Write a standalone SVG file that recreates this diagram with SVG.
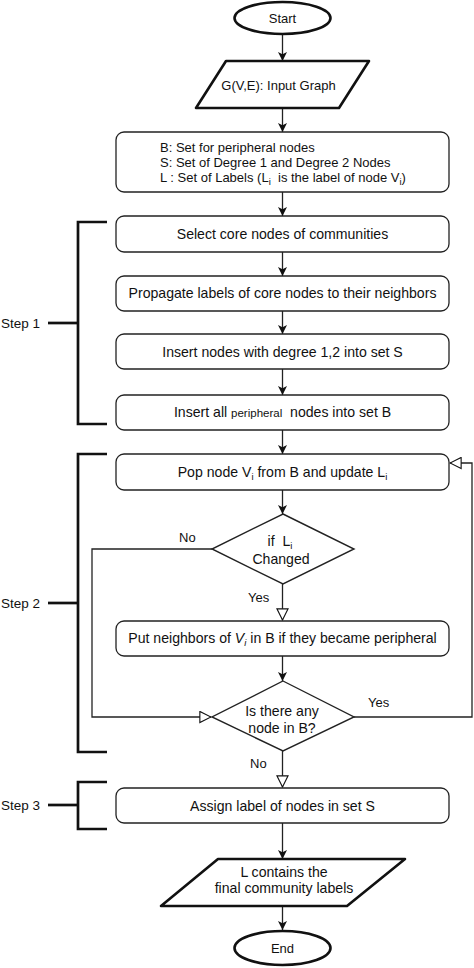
<svg xmlns="http://www.w3.org/2000/svg" width="474" height="968" viewBox="0 0 474 968">
<defs>
<marker id="fa" viewBox="0 0 10 10" refX="10" refY="5" markerWidth="9" markerHeight="9" markerUnits="userSpaceOnUse" orient="auto">
<path d="M0,0 L10,5 L0,10 L2.5,5 z" fill="#111"/>
</marker>
<marker id="oa" viewBox="-1 -1 14 14" refX="12" refY="6" markerWidth="13" markerHeight="13" markerUnits="userSpaceOnUse" orient="auto">
<path d="M0,0 L12,6 L0,12 z" fill="#fff" stroke="#111" stroke-width="1.2"/>
</marker>
<style>
text{font-family:"Liberation Sans",Arial,sans-serif;font-size:13px;fill:#111;white-space:pre}
.c{text-anchor:middle}
.m{font-size:14.1px}
.st{font-size:13.5px}
.box{fill:#fff;stroke:#222;stroke-width:1.3}
.term{fill:#fff;stroke:#111;stroke-width:2.6}
.io{fill:#fff;stroke:#111;stroke-width:2.6;stroke-linejoin:round}
.dia{fill:#fff;stroke:#222;stroke-width:1.4}
.ln{fill:none;stroke:#222;stroke-width:1.3}
.br{fill:none;stroke:#111;stroke-width:2.7}
.sub{font-size:9.5px}
</style>
</defs>

<g id="connectors">
<line class="ln" x1="282.5" y1="34" x2="282.5" y2="61" marker-end="url(#fa)"/>
<line class="ln" x1="282.5" y1="108" x2="282.5" y2="132" marker-end="url(#fa)"/>
<line class="ln" x1="282.5" y1="192" x2="282.5" y2="216" marker-end="url(#fa)"/>
<line class="ln" x1="282.5" y1="252" x2="282.5" y2="276" marker-end="url(#fa)"/>
<line class="ln" x1="282.5" y1="311" x2="282.5" y2="334" marker-end="url(#fa)"/>
<line class="ln" x1="282.5" y1="369" x2="282.5" y2="395" marker-end="url(#fa)"/>
<line class="ln" x1="282.5" y1="430" x2="282.5" y2="454" marker-end="url(#fa)"/>
<line class="ln" x1="282.5" y1="490" x2="282.5" y2="514" marker-end="url(#fa)"/>
<line class="ln" x1="282.5" y1="584" x2="282.5" y2="620" marker-end="url(#oa)"/>
<line class="ln" x1="282.5" y1="656" x2="282.5" y2="681" marker-end="url(#fa)"/>
<line class="ln" x1="282.5" y1="751" x2="282.5" y2="787" marker-end="url(#oa)"/>
<line class="ln" x1="282.5" y1="823" x2="282.5" y2="859" marker-end="url(#fa)"/>
<line class="ln" x1="282.5" y1="906" x2="282.5" y2="930" marker-end="url(#fa)"/>
<polyline class="ln" points="212,549 92,549 92,717 211,717" marker-end="url(#oa)"/>
<polyline class="ln" points="354,717 472,717 472,463 450,463" marker-end="url(#oa)"/>
<text x="179" y="542">No</text>
<text x="248" y="602">Yes</text>
<text x="368" y="707">Yes</text>
<text x="250" y="768">No</text>
</g>

<g id="brackets">
<polyline class="br" points="107,222 78,222 78,424 107,424"/>
<line class="br" x1="48" y1="323" x2="78" y2="323"/>
<text class="st" x="1" y="327.5">Step 1</text>
<polyline class="br" points="107,454 78,454 78,752 107,752"/>
<line class="br" x1="48" y1="603" x2="78" y2="603"/>
<text class="st" x="1" y="608">Step 2</text>
<polyline class="br" points="107,782 78,782 78,829 107,829"/>
<line class="br" x1="48" y1="805" x2="78" y2="805"/>
<text class="st" x="1" y="810">Step 3</text>
</g>

<g id="start">
<ellipse class="term" cx="282.5" cy="18" rx="48" ry="16"/>
<text class="c" x="282.5" y="22.5">Start</text>
</g>

<g id="input">
<polygon class="io" points="226,61 369,61 339,108 196,108"/>
<text class="c" x="278.5" y="90" font-size="13.3">G(V,E): Input Graph</text>
</g>

<g id="defs-box">
<rect class="box" x="116" y="132" width="333" height="60" rx="8"/>
<text x="160" y="152">B: Set for peripheral nodes</text>
<text x="160" y="167">S: Set of Degree 1 and Degree 2 Nodes</text>
<text x="160" y="182">L : Set of Labels (L<tspan class="sub" dy="3">i</tspan><tspan dy="-3">  is the label of node V</tspan><tspan class="sub" dy="3">i</tspan><tspan dy="-3">)</tspan></text>
</g>

<g id="select">
<rect class="box" x="116" y="216" width="333" height="36" rx="8"/>
<text class="c m" x="282.5" y="238.5">Select core nodes of communities</text>
</g>

<g id="propagate">
<rect class="box" x="116" y="276" width="333" height="35" rx="8"/>
<text class="c m" x="282.5" y="298">Propagate labels of core nodes to their neighbors</text>
</g>

<g id="insert-s">
<rect class="box" x="116" y="334" width="333" height="35" rx="8"/>
<text class="c m" x="282.5" y="356.5">Insert nodes with degree 1,2 into set S</text>
</g>

<g id="insert-b">
<rect class="box" x="116" y="395" width="333" height="35" rx="8"/>
<text class="c m" x="282.5" y="417">Insert all <tspan font-size="11.5">peripheral</tspan>  nodes into set B</text>
</g>

<g id="pop">
<rect class="box" x="116" y="454" width="333" height="36" rx="8"/>
<text class="c m" x="282.5" y="476.5">Pop node V<tspan class="sub" dy="3">i</tspan><tspan dy="-3"> from B and update L</tspan><tspan class="sub" dy="3">i</tspan></text>
</g>

<g id="changed">
<polygon class="dia" points="283,514 354,549 283,584 212,549"/>
<text class="c m" x="280" y="546">if  L<tspan class="sub" dy="3">i</tspan></text>
<text class="c m" x="281" y="564">Changed</text>
</g>

<g id="put">
<rect class="box" x="116" y="621" width="333" height="35" rx="8"/>
<text class="c m" x="282.5" y="643">Put neighbors of <tspan font-style="italic">V</tspan><tspan class="sub" font-style="italic" dy="3">i</tspan><tspan dy="-3"> in B if they became peripheral</tspan></text>
</g>

<g id="any">
<polygon class="dia" points="283,681 354,717 283,751 212,717"/>
<text class="c m" x="282" y="716">Is there any</text>
<text class="c m" x="282" y="733">node in B?</text>
</g>

<g id="assign">
<rect class="box" x="116" y="788" width="333" height="35" rx="8"/>
<text class="c m" x="282.5" y="810.5">Assign label of nodes in set S</text>
</g>

<g id="output">
<polygon class="io" points="218,859 405,859 347,906 161,906"/>
<text class="c m" x="284" y="877">L contains the</text>
<text class="c m" x="284" y="893">final community labels</text>
</g>

<g id="end">
<ellipse class="term" cx="282.5" cy="948" rx="48" ry="17"/>
<text class="c" x="282.5" y="952.5">End</text>
</g>
</svg>
